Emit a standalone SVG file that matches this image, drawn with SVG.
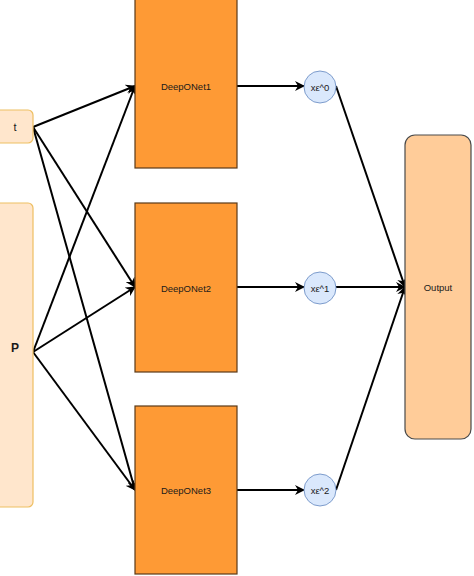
<svg xmlns="http://www.w3.org/2000/svg" width="474" height="576" viewBox="0 0 474 576">
<defs>
<style>
.net{fill:#fe9a35;stroke:#5a3a18;stroke-width:1.2}
.in{fill:#ffe6cc;stroke:#eebf62;stroke-width:1.2}
.circ{fill:#dae8fc;stroke:#7d9ccc;stroke-width:1}
.out{fill:#ffcc99;stroke:#4a4a4a;stroke-width:1.2}
.lbl{font-family:"Liberation Sans",Arial,sans-serif;font-size:9.5px;fill:#1a1a1a;text-anchor:middle;dominant-baseline:central}
.edge{stroke:#000;stroke-width:2;fill:none;marker-end:url(#arr)}
</style>
<marker id="arr" viewBox="0 0 10 10" refX="9" refY="5" markerWidth="10" markerHeight="10" markerUnits="userSpaceOnUse" orient="auto">
<path d="M0,0 L10,5 L0,10 L3,5 Z" fill="#000"/>
</marker>
</defs>
<rect width="474" height="576" fill="#fff"/>
<g id="connectors">
<line class="edge" x1="33" y1="127" x2="135" y2="86"/>
<line class="edge" x1="33" y1="127" x2="135" y2="287"/>
<line class="edge" x1="33" y1="127" x2="135" y2="490"/>
<line class="edge" x1="33" y1="352" x2="135" y2="86"/>
<line class="edge" x1="33" y1="352" x2="135" y2="287"/>
<line class="edge" x1="33" y1="352" x2="135" y2="490"/>
<line class="edge" x1="237" y1="86" x2="304" y2="86"/>
<line class="edge" x1="237" y1="287" x2="304" y2="287"/>
<line class="edge" x1="237" y1="490" x2="304" y2="490"/>
<line class="edge" x1="336" y1="86" x2="405" y2="287"/>
<line class="edge" x1="336" y1="287" x2="405" y2="287"/>
<line class="edge" x1="336" y1="490" x2="405" y2="287"/>
</g>
<g id="t">
<rect class="in" x="-5" y="110" width="38" height="33" rx="5"/>
<text class="lbl" x="15" y="127" style="font-size:11px">t</text>
</g>
<g id="P">
<rect class="in" x="-5" y="203" width="38" height="304" rx="5"/>
<text class="lbl" x="15" y="348" style="font-size:12px;font-weight:bold">P</text>
</g>
<g id="DeepONet1">
<rect class="net" x="135" y="-2" width="102" height="170"/>
<text class="lbl" x="186" y="86">DeepONet1</text>
</g>
<g id="DeepONet2">
<rect class="net" x="135" y="203" width="102" height="169"/>
<text class="lbl" x="186" y="288">DeepONet2</text>
</g>
<g id="DeepONet3">
<rect class="net" x="135" y="406" width="102" height="168"/>
<text class="lbl" x="186" y="490">DeepONet3</text>
</g>
<g id="xe0">
<circle class="circ" cx="320" cy="87" r="16"/>
<text class="lbl" x="320" y="87">xε^0</text>
</g>
<g id="xe1">
<circle class="circ" cx="320" cy="288" r="16"/>
<text class="lbl" x="320" y="288">xε^1</text>
</g>
<g id="xe2">
<circle class="circ" cx="320" cy="490" r="16"/>
<text class="lbl" x="320" y="490">xε^2</text>
</g>
<g id="Output">
<rect class="out" x="405" y="135" width="66" height="304" rx="10"/>
<text class="lbl" x="438" y="287">Output</text>
</g>
</svg>
